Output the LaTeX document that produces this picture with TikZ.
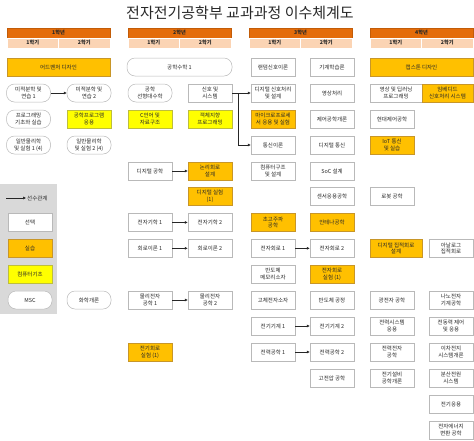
\documentclass[tikz,border=0pt]{standalone}
\usepackage{fontspec}
\setmainfont{Noto Sans CJK KR}
\usetikzlibrary{arrows.meta}
\definecolor{hdr}{RGB}{228,108,10}
\definecolor{subc}{RGB}{251,212,180}
\definecolor{oran}{RGB}{255,192,0}
\definecolor{oline}{RGB}{200,150,40}
\definecolor{yel}{RGB}{255,255,0}
\definecolor{yline}{RGB}{190,190,60}
\definecolor{gline}{RGB}{185,185,185}
\definecolor{legbg}{RGB}{217,217,217}
\definecolor{txt}{RGB}{40,40,40}
\newcommand{\fs}{\fontsize{5.5}{6.6}\selectfont}
\newcommand{\hfs}{\fontsize{5.2}{5.6}\selectfont\bfseries}
\tikzset{
  base/.style={minimum width=44pt, minimum height=18pt, inner sep=1pt, align=center, font=\fs, text=txt, line width=0.5pt},
  wbox/.style={base, draw=gline, fill=white},
  obox/.style={base, draw=oline, fill=oran},
  ybox/.style={base, draw=yline, fill=yel},
  rbox/.style={base, draw=gline, fill=white, rounded corners=8pt},
  hdrbox/.style={minimum width=103pt, minimum height=10pt, inner sep=0pt, fill=hdr, draw=hdr!85!black, line width=0.4pt, font=\hfs, text=txt},
  subbox/.style={minimum width=51.5pt, minimum height=10pt, inner sep=0pt, fill=subc, draw=white, line width=0.6pt, font=\hfs, text=txt},
  arr/.style={-{Latex[length=3pt,width=3pt]}, line width=0.5pt, draw=black!85},
}
\begin{document}
\begin{tikzpicture}[x=1pt,y=-1pt]
\useasboundingbox (0,0) rectangle (474,440);
\node[font=\fontsize{15}{17}\selectfont, text=txt] (title) at (240,13) {전자전기공학부 교과과정 이수체계도};
% headers
\node[hdrbox] (y1) at (58.5,33) {1학년};
\node[subbox] (y1a) at (32.75,43) {1학기};
\node[subbox] (y1b) at (84.25,43) {2학기};
\node[hdrbox] (y2) at (179.5,33) {2학년};
\node[subbox] (y2a) at (153.75,43) {1학기};
\node[subbox] (y2b) at (205.25,43) {2학기};
\node[hdrbox] (y3) at (300.5,33) {3학년};
\node[subbox] (y3a) at (274.75,43) {1학기};
\node[subbox] (y3b) at (326.25,43) {2학기};
\node[hdrbox] (y4) at (421.5,33) {4학년};
\node[subbox] (y4a) at (395.75,43) {1학기};
\node[subbox] (y4b) at (447.25,43) {2학기};
% legend panel
\node[fill=legbg, minimum width=57pt, minimum height=130pt, inner sep=0pt] (legend) at (28.5,249) {};
\coordinate (la) at (6,198);
\node[anchor=west, font=\fs, text=txt, inner sep=1pt] (lt) at (26,198) {선수관계};
\draw[arr] (la) -- (lt.west);
\node[wbox] (lsel) at (30,222.4) {선택};
\node[obox] (lprac) at (30,248.3) {실습};
\node[ybox] (lcomp) at (30,274.2) {컴퓨터기초};
\node[rbox] (lmsc) at (30,300) {MSC};
% year 1
\node[obox, minimum width=103pt] (adv) at (58.5,67) {어드벤처 디자인};
\node[rbox] (calc1) at (28.5,93) {미적분학 및\\연습 1};
\node[rbox] (calc2) at (89,93) {미적분학 및\\연습 2};
\node[rbox] (prog) at (28.5,119) {프로그래밍\\기초와 실습};
\node[ybox] (engprog) at (89,119) {공학프로그램\\응용};
\node[rbox] (phys1) at (28.5,145) {일반물리학\\및 실험 1 (4)};
\node[rbox] (phys2) at (89,145) {일반물리학\\및 실험 2 (4)};
\node[rbox] (chem) at (89,300) {화학개론};
% year 2
\node[rbox, minimum width=105pt] (math1) at (179.5,67) {공학수학 1};
\node[rbox] (linalg) at (150,93) {공학\\선형대수학};
\node[wbox] (sig) at (210,93) {신호 및\\시스템};
\node[ybox] (cds) at (150,119) {C언어 및\\자료구조};
\node[ybox] (oop) at (210,119) {객체지향\\프로그래밍};
\node[wbox] (dig) at (150,171) {디지털 공학};
\node[obox] (logic) at (210,171) {논리회로\\설계};
\node[obox] (diglab) at (210,196.5) {디지털 실험\\(1)};
\node[wbox] (emg1) at (150,222.4) {전자기학 1};
\node[wbox] (emg2) at (210,222.4) {전자기학 2};
\node[wbox] (ct1) at (150,248.3) {회로이론 1};
\node[wbox] (ct2) at (210,248.3) {회로이론 2};
\node[wbox] (pe1) at (150,300) {물리전자\\공학 1};
\node[wbox] (pe2) at (210,300) {물리전자\\공학 2};
\node[obox] (eclab) at (150,352) {전기회로\\실험 (1)};
% year 3
\node[wbox] (rand) at (273,67) {랜덤신호이론};
\node[wbox] (ml) at (332,67) {기계학습론};
\node[wbox] (dsp) at (273,93) {디지털 신호처리\\및 설계};
\node[wbox] (img) at (332,93) {영상처리};
\node[obox] (micro) at (273,119) {마이크로프로세\\서 응용 및 실험};
\node[wbox] (ctrl) at (332,119) {제어공학개론};
\node[wbox] (comm) at (273,145) {통신이론};
\node[wbox] (dcomm) at (332,145) {디지털 통신};
\node[wbox] (arch) at (273,171) {컴퓨터구조\\및 설계};
\node[wbox] (soc) at (332,171) {SoC 설계};
\node[wbox] (sensor) at (332,196.5) {센서응용공학};
\node[obox] (rf) at (273,222.4) {초고주파\\공학};
\node[obox] (ant) at (332,222.4) {안테나공학};
\node[wbox] (ec1) at (273,248.3) {전자회로 1};
\node[wbox] (ec2) at (332,248.3) {전자회로 2};
\node[wbox] (mem) at (273,274.2) {반도체\\메모리소자};
\node[obox] (eclab2) at (332,274.2) {전자회로\\실험 (1)};
\node[wbox] (ssd) at (273,300) {고체전자소자};
\node[wbox] (semi) at (332,300) {반도체 공정};
\node[wbox] (mach1) at (273,326) {전기기계 1};
\node[wbox] (mach2) at (332,326) {전기기계 2};
\node[wbox] (pw1) at (273,352) {전력공학 1};
\node[wbox] (pw2) at (332,352) {전력공학 2};
\node[wbox] (hv) at (332,378) {고전압 공학};
% year 4
\node[obox, minimum width=103pt] (cap) at (421.5,67) {캡스톤 디자인};
\node[wbox, minimum width=52pt] (dl) at (396,93) {영상 및 딥러닝\\프로그래밍};
\node[obox, minimum width=51pt] (emb) at (447.5,93) {임베디드\\신호처리 시스템};
\node[wbox] (mctrl) at (392,119) {현대제어공학};
\node[obox] (iot) at (392,145) {IoT 통신\\및 실습};
\node[wbox] (robot) at (392,196.5) {로봇 공학};
\node[obox, minimum width=52pt] (dic) at (396,248.3) {디지털 집적회로\\설계};
\node[wbox] (aic) at (451,248.3) {아날로그\\집적회로};
\node[wbox] (opto) at (392,300) {광전자 공학};
\node[wbox] (nano) at (451,300) {나노전자\\기계공학};
\node[wbox] (psys) at (392,326) {전력시스템\\응용};
\node[wbox] (motor) at (451,326) {전동력 제어\\및 응용};
\node[wbox] (pel) at (392,352) {전력전자\\공학};
\node[wbox] (batt) at (451,352) {이차전지\\시스템개론};
\node[wbox] (inst) at (392,378) {전기설비\\공학개론};
\node[wbox] (dist) at (451,378) {분산전원\\시스템};
\node[wbox] (app) at (451,404) {전기응용};
\node[wbox] (conv) at (451,430) {전자에너지\\변환 공학};
% arrows
\draw[arr] (calc1) -- (calc2);
\draw[arr] (sig) -- (dsp);
\draw[arr] (sig.east) -- ++(6,0) |- (comm.west);
\draw[arr] (dig) -- (logic);
\draw[arr] (emg1) -- (emg2);
\draw[arr] (ct1) -- (ct2);
\draw[arr] (pe1) -- (pe2);
\draw[arr] (ec1) -- (ec2);
\draw[arr] (mach1) -- (mach2);
\draw[arr] (pw1) -- (pw2);
\end{tikzpicture}
\end{document}
